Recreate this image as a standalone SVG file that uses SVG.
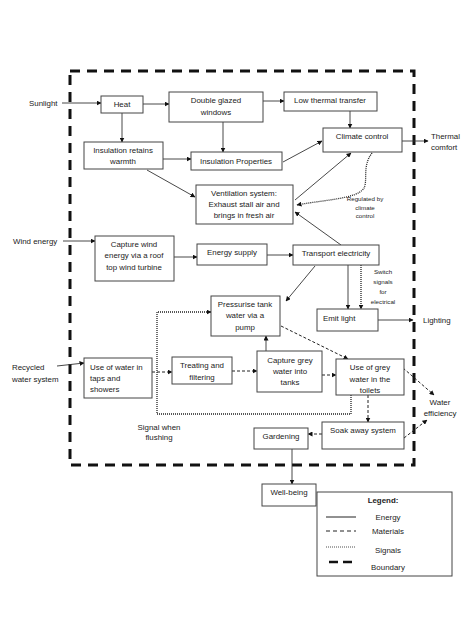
<svg xmlns="http://www.w3.org/2000/svg" width="474" height="632" viewBox="0 0 474 632">
<style>
.box{fill:#fff;stroke:#444;stroke-width:1}
text{font-family:"Liberation Sans",Arial,sans-serif;font-size:7.9px;fill:#222}
.c{text-anchor:middle}
.sm{font-size:6.2px}
.e{fill:none;stroke:#333;stroke-width:0.9;marker-end:url(#ah)}
.m{fill:none;stroke:#222;stroke-width:1;stroke-dasharray:3,2;marker-end:url(#ah)}
.s{fill:none;stroke:#222;stroke-width:1.3;stroke-dasharray:1,1;marker-end:url(#ah)}
.b{fill:none;stroke:#111;stroke-width:3;stroke-dasharray:10,7}
</style>
<defs>
<marker id="ah" viewBox="0 0 10 10" refX="9" refY="5" markerWidth="5" markerHeight="5" markerUnits="userSpaceOnUse" orient="auto">
<path d="M0,0 L10,5 L0,10 z" fill="#111"/>
</marker>
</defs>
<rect width="474" height="632" fill="#fff"/>
<rect id="boundary" class="b" x="70" y="71" width="344" height="394"/>

<g id="connectors">
<line class="e" x1="62" y1="103" x2="101" y2="103"/>
<line class="e" x1="143" y1="104" x2="169" y2="104"/>
<line class="e" x1="122" y1="113" x2="122" y2="142"/>
<line class="e" x1="223" y1="122" x2="223" y2="152"/>
<line class="e" x1="163" y1="159" x2="191" y2="159"/>
<line class="e" x1="147" y1="170" x2="195" y2="197"/>
<line class="e" x1="263" y1="101" x2="284" y2="101"/>
<line class="e" x1="350" y1="111" x2="350" y2="128"/>
<line class="e" x1="283" y1="162" x2="322" y2="141"/>
<line class="e" x1="295" y1="200" x2="351" y2="153"/>
<path class="s" d="M372,153 C362,166 368,180 364,188 C358,199 322,200 297,205"/>
<line class="e" x1="341" y1="245" x2="295" y2="212"/>
<line class="e" x1="402" y1="141" x2="428" y2="141"/>
<line class="e" x1="63" y1="241" x2="95" y2="241"/>
<line class="e" x1="174" y1="257" x2="197" y2="257"/>
<line class="e" x1="267" y1="255" x2="293" y2="255"/>
<line class="e" x1="348" y1="265" x2="348" y2="309"/>
<line class="s" x1="361" y1="265" x2="361" y2="309"/>
<line class="e" x1="315" y1="266" x2="286" y2="301"/>
<line class="e" x1="378" y1="320" x2="413" y2="320"/>
<line class="e" x1="57" y1="366" x2="84" y2="363"/>
<line class="m" x1="152" y1="372" x2="172" y2="372"/>
<path class="s" d="M351,395 L351,414 L157,414 L157,312 L211,312"/>
<line class="m" x1="232" y1="371" x2="257" y2="371"/>
<line class="e" x1="266" y1="351" x2="266" y2="336"/>
<line class="m" x1="322" y1="375" x2="336" y2="375"/>
<line class="m" x1="281" y1="326" x2="348" y2="359"/>
<line class="m" x1="368" y1="395" x2="368" y2="422"/>
<line class="m" x1="403" y1="368" x2="434" y2="395"/>
<line class="m" x1="404" y1="438" x2="427" y2="420"/>
<line class="m" x1="322" y1="434" x2="308" y2="434"/>
<line class="e" x1="292" y1="449" x2="292" y2="484"/>
</g>

<g id="n-heat"><rect class="box" x="101" y="96" width="42" height="17"/><text class="c" x="122" y="107">Heat</text></g>
<g id="n-dgw"><rect class="box" x="169" y="92" width="94" height="30"/><text class="c" x="216" y="103">Double glazed</text><text class="c" x="216" y="115">windows</text></g>
<g id="n-ltt"><rect class="box" x="284" y="92" width="93" height="19"/><text class="c" x="330" y="103">Low thermal transfer</text></g>
<g id="n-irw"><rect class="box" x="84" y="142" width="79" height="27"/><text class="c" x="123" y="153">Insulation retains</text><text class="c" x="123" y="164">warmth</text></g>
<g id="n-ip"><rect class="box" x="191" y="152" width="91" height="18"/><text class="c" x="236" y="164">Insulation Properties</text></g>
<g id="n-cc"><rect class="box" x="323" y="128" width="79" height="24"/><text class="c" x="362" y="139">Climate control</text></g>
<g id="n-vent"><rect class="box" x="196" y="185" width="97" height="39"/><text class="c" x="244" y="196">Ventilation system:</text><text class="c" x="244" y="207">Exhaust stall air and</text><text class="c" x="244" y="218">brings in fresh air</text></g>
<g id="n-wind"><rect class="box" x="95" y="236" width="79" height="45"/><text class="c" x="134" y="247">Capture wind</text><text class="c" x="134" y="258">energy via a roof</text><text class="c" x="134" y="270">top wind turbine</text></g>
<g id="n-es"><rect class="box" x="197" y="244" width="70" height="21"/><text class="c" x="232" y="255">Energy supply</text></g>
<g id="n-te"><rect class="box" x="293" y="245" width="86" height="20"/><text class="c" x="336" y="256">Transport electricity</text></g>
<g id="n-el"><rect class="box" x="317" y="309" width="61" height="22"/><text x="323" y="321">Emit light</text></g>
<g id="n-pt"><rect class="box" x="211" y="296" width="69" height="40"/><text class="c" x="245" y="307">Pressurise tank</text><text class="c" x="245" y="318">water via a</text><text class="c" x="245" y="330">pump</text></g>
<g id="n-uw"><rect class="box" x="84" y="358" width="68" height="40"/><text x="90" y="370">Use of water in</text><text x="90" y="381">taps and</text><text x="90" y="392">showers</text></g>
<g id="n-tf"><rect class="box" x="172" y="357" width="60" height="27"/><text class="c" x="202" y="368">Treating and</text><text class="c" x="202" y="380">filtering</text></g>
<g id="n-cg"><rect class="box" x="257" y="351" width="65" height="41"/><text class="c" x="290" y="363">Capture grey</text><text class="c" x="290" y="374">water into</text><text class="c" x="290" y="385">tanks</text></g>
<g id="n-ug"><rect class="box" x="336" y="359" width="68" height="36"/><text class="c" x="370" y="370">Use of grey</text><text class="c" x="370" y="382">water in the</text><text class="c" x="370" y="393">toilets</text></g>
<g id="n-sa"><rect class="box" x="322" y="422" width="82" height="27"/><text class="c" x="363" y="433">Soak away system</text></g>
<g id="n-gd"><rect class="box" x="254" y="428" width="54" height="21"/><text class="c" x="281" y="439">Gardening</text></g>
<g id="n-wb"><rect class="box" x="262" y="484" width="54" height="22"/><text class="c" x="289" y="495">Well-being</text></g>

<g id="labels">
<text x="29" y="106">Sunlight</text>
<text x="13" y="244">Wind energy</text>
<text x="12" y="370">Recycled</text>
<text x="12" y="382">water system</text>
<text x="431" y="139">Thermal</text>
<text x="431" y="150">comfort</text>
<text x="423" y="323">Lighting</text>
<text class="c" x="440" y="405">Water</text>
<text class="c" x="440" y="416">efficiency</text>
<text class="c" x="159" y="430">Signal when</text>
<text class="c" x="159" y="440">flushing</text>
<text class="c sm" x="365" y="201">Regulated by</text>
<text class="c sm" x="365" y="210">climate</text>
<text class="c sm" x="365" y="218">control</text>
<text class="c sm" x="383" y="274">Switch</text>
<text class="c sm" x="383" y="284">signals</text>
<text class="c sm" x="383" y="294">for</text>
<text class="c sm" x="383" y="304">electrical</text>
</g>

<g id="legend">
<rect class="box" x="317" y="492" width="135" height="84"/>
<text class="c" x="383" y="503" style="font-weight:bold">Legend:</text>
<line x1="326" y1="517" x2="356" y2="517" stroke="#222" stroke-width="1"/>
<text class="c" x="388" y="520">Energy</text>
<line x1="326" y1="531" x2="356" y2="531" stroke="#222" stroke-width="1" stroke-dasharray="4,3"/>
<text class="c" x="388" y="534">Materials</text>
<line x1="326" y1="547" x2="356" y2="547" stroke="#222" stroke-width="0.8" stroke-dasharray="1,1"/>
<text class="c" x="388" y="553">Signals</text>
<line x1="329" y1="562" x2="357" y2="562" stroke="#111" stroke-width="2.5" stroke-dasharray="9,5"/>
<text class="c" x="388" y="570">Boundary</text>
</g>
</svg>
